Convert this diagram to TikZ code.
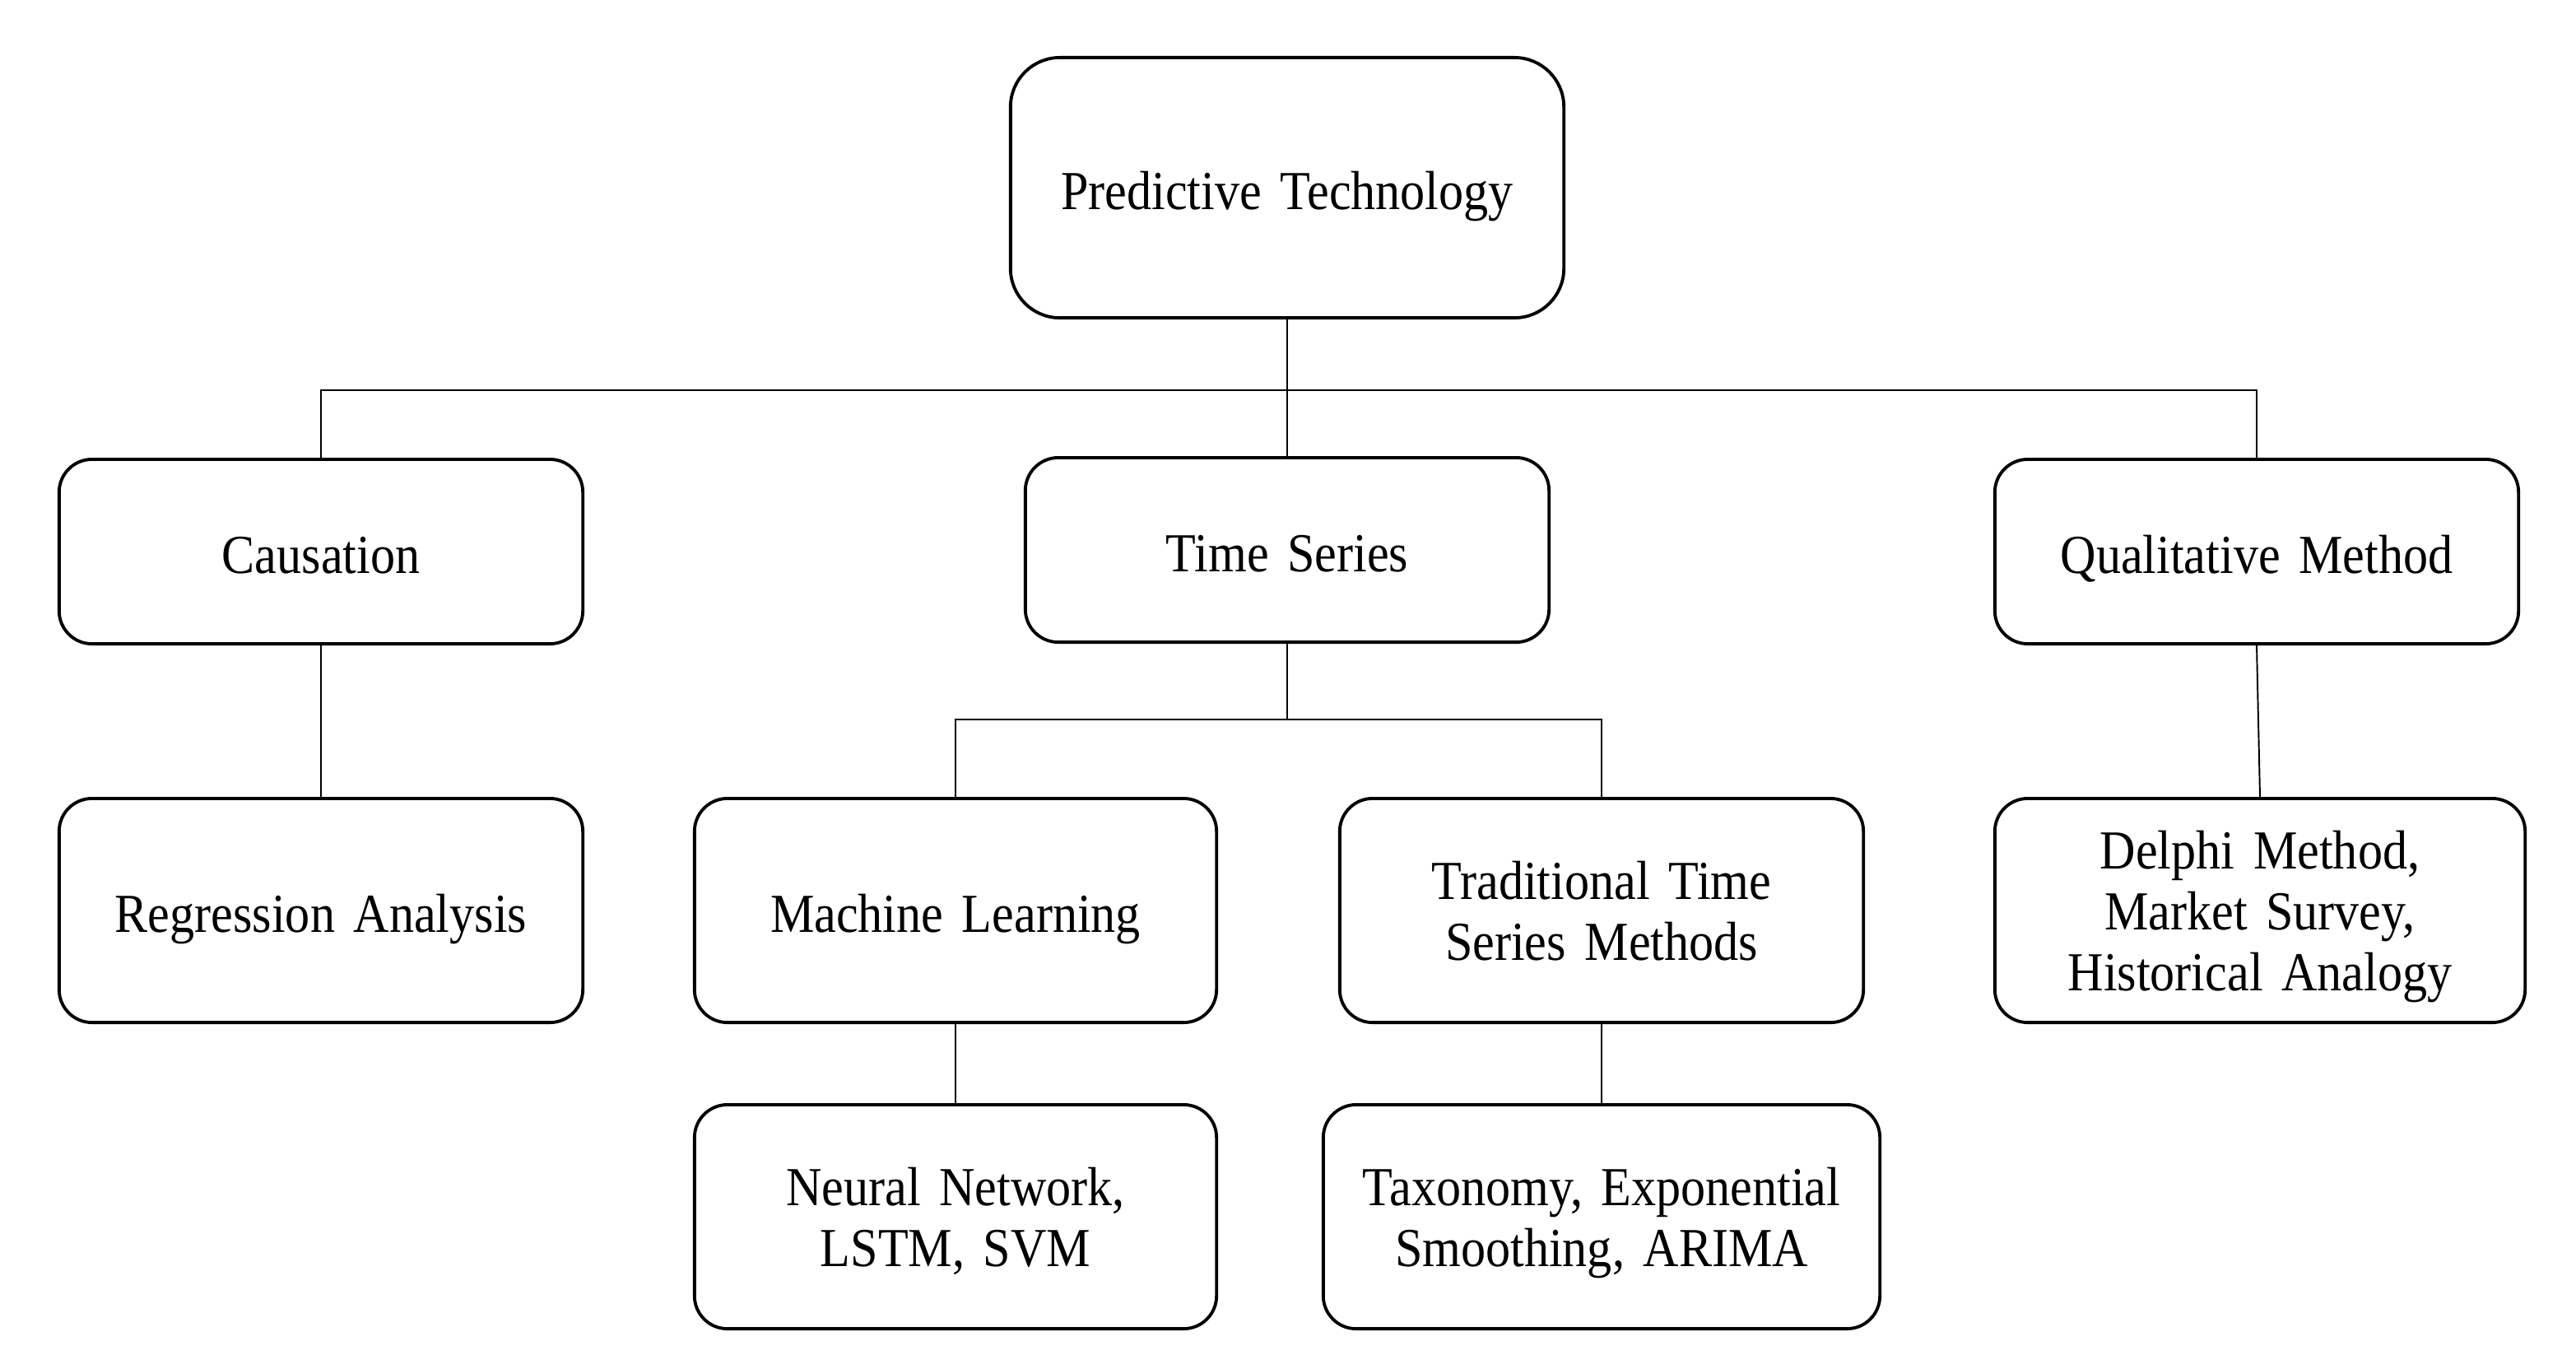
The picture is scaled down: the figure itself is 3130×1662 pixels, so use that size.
\documentclass[tikz,border=0pt]{standalone}
\usepackage{fontspec}
\setmainfont{Liberation Serif}[FakeStretch=0.9,WordSpace=1.5]
\begin{document}
\begin{tikzpicture}[x=0.01cm,y=-0.01cm,
  box/.style={draw=black, line width=1.1pt, rounded corners=0.4cm, fill=white,
    inner sep=0pt, align=center, font=\fontsize{19}{21}\selectfont,
    execute at begin node={\rule{0pt}{19.5pt}},
    execute at end node={\rule[-4.5pt]{0pt}{0pt}}},
  twobox/.style={box, execute at begin node={\rule{0pt}{39pt}}},
  threebox/.style={box, execute at begin node={\rule{0pt}{60pt}}},
  conn/.style={draw=black, line width=0.55pt}]
\useasboundingbox[fill=white] (0,0) rectangle (3130,1662);
\node[box, rounded corners=0.6cm, minimum width=6.72cm, minimum height=3.16cm] (top) at (1564,228) {Predictive Technology};
\node[box, minimum width=6.36cm, minimum height=2.24cm] (caus) at (390,670) {Causation};
\node[box, minimum width=6.36cm, minimum height=2.24cm] (ts) at (1564,668) {Time Series};
\node[box, minimum width=6.36cm, minimum height=2.24cm] (qual) at (2742,670) {Qualitative Method};
\node[box, minimum width=6.36cm, minimum height=2.72cm] (reg) at (390,1106) {Regression Analysis};
\node[box, minimum width=6.34cm, minimum height=2.72cm] (ml) at (1161,1106) {Machine Learning};
\node[twobox, minimum width=6.36cm, minimum height=2.72cm] (trad) at (1946,1106) {Traditional Time\\Series Methods};
\node[threebox, minimum width=6.44cm, minimum height=2.72cm] (delphi) at (2746,1106) {Delphi Method,\\Market Survey,\\Historical Analogy};
\node[twobox, minimum width=6.34cm, minimum height=2.72cm] (nn) at (1161,1478) {Neural Network,\\LSTM, SVM};
\node[twobox, minimum width=6.76cm, minimum height=2.72cm] (tax) at (1946,1478) {Taxonomy, Exponential\\Smoothing, ARIMA};
\coordinate (j1) at (1564,474);
\coordinate (j2) at (1564,874);
\draw[conn] (top.south) -- (ts.north);
\draw[conn] (caus.north) |- (j1) -| (qual.north);
\draw[conn] (caus.south) -- (reg.north);
\draw[conn] (qual.south) -- (delphi.north);
\draw[conn] (ts.south) -- (j2);
\draw[conn] (ml.north) |- (j2) -| (trad.north);
\draw[conn] (ml.south) -- (nn.north);
\draw[conn] (trad.south) -- (tax.north);
\end{tikzpicture}
\end{document}
